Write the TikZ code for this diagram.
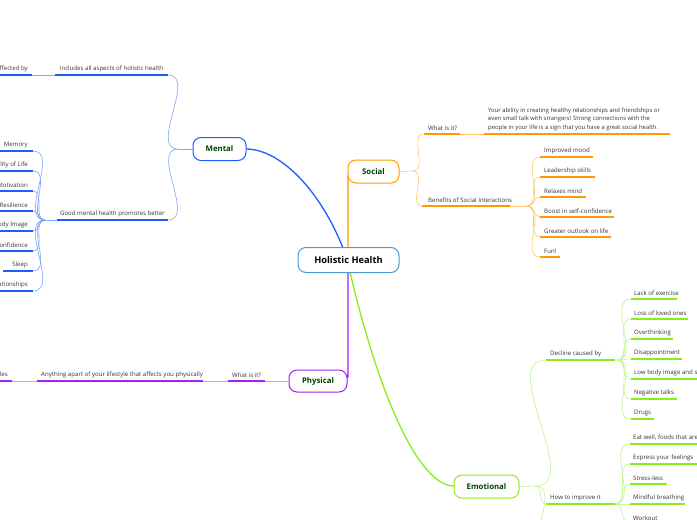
\documentclass[tikz,border=0pt]{standalone}
\usepackage{fontspec}
\setmainfont{Open Sans}
\begin{document}
\begin{tikzpicture}[x=1pt,y=-1pt,
  txt/.style={inner sep=0pt,font=\fontsize{6.1}{7.6}\selectfont,text=black!80},
  mainbox/.style={draw,line width=1pt,rounded corners=8pt,fill=white,inner sep=0pt,font=\bfseries\fontsize{7.8}{9}\selectfont,text=green!25!black},
  ul/.style={line width=1.1pt},
  br/.style={line width=0.6pt}]
\useasboundingbox (0,0) rectangle (697,520);
\clip (0,0) rectangle (697,520);
\definecolor{cb}{HTML}{1F5CFF}\definecolor{cbl}{HTML}{7EA2FF}
\definecolor{co}{HTML}{FF9A00}\definecolor{col}{HTML}{FFC870}
\definecolor{cp}{HTML}{A61FF0}\definecolor{cpl}{HTML}{D49AF8}
\definecolor{cg}{HTML}{86EE1A}\definecolor{cgl}{HTML}{BDF58A}
\definecolor{cr}{HTML}{4A9AD8}
% main branches
\draw[cb,line width=1.3pt] (343,248) .. controls (320,190) and (280,149) .. (246,149);
\draw[co,line width=1.3pt] (348,248) -- (348,176) to[out=-90,in=180] (352,171);
\draw[cp,line width=1.3pt] (348,272) -- (348,376) to[out=90,in=0] (344,381);
\draw[cg,line width=1.3pt] (350,272) .. controls (380,400) and (420,486) .. (454,486);
\node[mainbox,draw=cr,minimum width=101pt,minimum height=25pt,font=\bfseries\fontsize{9.3}{11}\selectfont,text=black] (root) at (348.5,260) {Holistic Health};
\node[mainbox,draw=cb,minimum width=53pt,minimum height=23pt] (mental) at (219.5,149) {Mental};
\node[mainbox,draw=co,minimum width=51pt,minimum height=23pt] (social) at (373.5,171.5) {Social};
\node[mainbox,draw=cp,minimum width=58pt,minimum height=22pt] (phys) at (318,381) {Physical};
\node[mainbox,draw=cg,minimum width=65pt,minimum height=23pt] (emo) at (486.5,486.5) {Emotional};
% ---------- Mental
\coordinate (mb) at (178,149);
\draw[cbl,br] (mental.west) -- (mb);
\draw[cbl,br] (mb) to[out=180,in=0] (168,75);
\draw[cb,ul] (55,75) -- (168,75);
\node[txt,anchor=south] (m1) at (111.5,72) {Includes all aspects of holistic health};
\draw[cbl,br] (32,75) -- (55,75);
\draw[cb,ul] (-5,75) -- (32,75);
\node[txt,anchor=south east] (m1a) at (28,72) {Affected by};
\draw[cbl,br] (mb) to[out=180,in=0] (168,220);
\draw[cb,ul] (57,220) -- (168,220);
\node[txt,anchor=south] (m2) at (112.5,217) {Good mental health promotes better};
\coordinate (m2b) at (45,220);
\draw[cbl,br] (57,220) -- (m2b);
\foreach \t/\y/\xa in {Memory/151/0,Quality of Life/171/0,Motivation/191/0,Resilience/211/0,Body Image/231/0,Confidence/251/0,Sleep/271/8,Relationships/291/0}{
  \draw[cbl,br] (m2b) to[out=180,in=0] (33,\y);
  \draw[cb,ul] (\xa-5,\y) -- (33,\y);
  \node[txt,anchor=south east] at (28,\y-3) {\t};
}
% ---------- Social
\coordinate (sb) at (413,171);
\draw[col,br] (social.east) -- (sb);
\draw[col,br] (sb) to[out=0,in=180] (424,134);
\draw[co,ul] (424,134) -- (460,134);
\node[txt,anchor=south west] (s1) at (428,131) {What is it?};
\draw[col,br] (460,134) -- (484,134);
\draw[co,ul] (484,134) -- (670,134);
\node[txt,anchor=south west,align=left,font=\fontsize{5.9}{8.6}\selectfont] (s1a) at (488,131) {Your ability in creating healthy relationships and friendships or\\even small talk with strangers! Strong connections with the\\people in your life is a sign that you have a great social health.};
\draw[col,br] (sb) to[out=0,in=180] (422,206);
\draw[co,ul] (422,206) -- (510,206);
\node[txt,anchor=south west] (s2) at (428,203) {Benefits of Social Interactions};
\coordinate (s2b) at (527,206);
\draw[col,br] (510,206) -- (s2b);
\foreach \t/\y/\xe in {Improved mood/157/593,Leadership skills/177/595,Relaxes mind/197/586,Boost in self-confidence/217/614,Greater outlook on life/237/611,Fun!/257/560}{
  \draw[col,br] (s2b) to[out=0,in=180] (540,\y);
  \draw[co,ul] (540,\y) -- (\xe,\y);
  \node[txt,anchor=south west] at (544,\y-3) {\t};
}
% ---------- Physical
\draw[cpl,br] (phys.west) -- (265,381);
\draw[cp,ul] (228,381) -- (265,381);
\node[txt,anchor=south west] (p1) at (232,378) {What is it?};
\draw[cpl,br] (203,381) -- (228,381);
\draw[cp,ul] (37,381) -- (203,381);
\node[txt,anchor=south west] (p1a) at (41,378) {Anything apart of your lifestyle that affects you physically};
\draw[cpl,br] (12,381) -- (37,381);
\draw[cp,ul] (-5,381) -- (12,381);
\node[txt,anchor=south east] (p1b) at (8,378) {Examples};
% ---------- Emotional
\coordinate (eb) at (535,486);
\draw[cgl,br] (emo.east) -- (eb);
\draw[cgl,br] (eb) to[out=0,in=180] (546,360);
\draw[cg,ul] (546,360) -- (615,360);
\node[txt,anchor=south west] (e1) at (550,357) {Decline caused by};
\draw[cgl,br] (eb) to[out=0,in=180] (546,504);
\draw[cg,ul] (546,504) -- (615,504);
\node[txt,anchor=south west] (e2) at (550,501) {How to improve it};
\draw[cgl,br] (eb) to[out=0,in=180] (546,560);
\foreach \t/\y/\xe in {Lack of exercise/299/677,Loss of loved ones/319/688,Overthinking/339/673,Disappointment/359/682,Low body image and self-esteem/379/720,Negative talks/399/677,Drugs/419/654}{
  \draw[cgl,br] (617,360) to[out=0,in=180] (631,\y);
  \draw[cg,ul] (631,\y) -- (\xe,\y);
  \node[txt,anchor=south west] at (634,\y-3) {\t};
}
\foreach \t/\y/\xe in {{Eat well, foods that are good for you}/444/720,Express your feelings/464/697,Stress-less/484/667,Mindful breathing/504/685,Workout/524/690}{
  \draw[cgl,br] (615,504) to[out=0,in=180] (630,\y);
  \draw[cg,ul] (630,\y) -- (\xe,\y);
  \node[txt,anchor=south west] at (633,\y-3) {\t};
}
\end{tikzpicture}
\end{document}
